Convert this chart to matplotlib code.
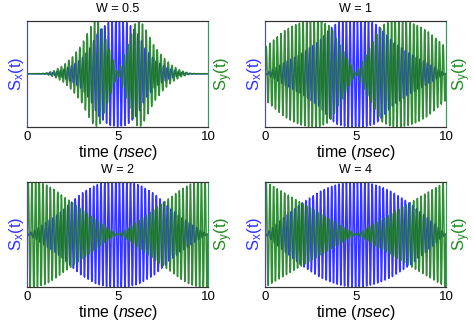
import numpy as np
import matplotlib
matplotlib.use("Agg")
import matplotlib.pyplot as plt

plt.rcParams['font.family'] = ['Liberation Sans', 'DejaVu Sans']
plt.rcParams['mathtext.fontset'] = 'custom'
plt.rcParams['mathtext.rm'] = 'Liberation Sans'
plt.rcParams['mathtext.it'] = 'Liberation Sans:italic'

# envelope knots (time in nsec) for each coupling W
t_knots = [0, 0.5, 1, 1.5, 2, 2.5, 3, 3.5, 3.75, 4, 4.5, 5,
           5.5, 6, 6.25, 6.5, 7, 7.5, 8, 8.5, 9, 9.5, 10]

w_values = ["0.5", "1", "2", "4"]

sx_env_w05 = [0, 0, 0.005, 0.03, 0.08, 0.16, 0.28, 0.5, 0.68, 0.82, 0.97, 1.0,
              0.97, 0.82, 0.68, 0.5, 0.28, 0.16, 0.08, 0.03, 0.005, 0, 0]
sy_env_w05 = [0, 0, 0.01, 0.06, 0.16, 0.32, 0.54, 0.88, 1.0, 0.97, 0.5, 0.0,
              0.5, 0.97, 1.0, 0.88, 0.54, 0.32, 0.16, 0.06, 0.01, 0, 0]

sx_env_w1 = [0, 0.1, 0.2, 0.29, 0.38, 0.5, 0.62, 0.82, 0.9, 0.96, 1.0, 1.0,
             1.0, 0.96, 0.9, 0.82, 0.62, 0.5, 0.38, 0.29, 0.2, 0.1, 0]
sy_env_w1 = [0.5, 0.65, 0.8, 0.9, 0.97, 1.0, 1.0, 0.92, 0.8, 0.62, 0.32, 0.0,
             0.32, 0.62, 0.8, 0.92, 1.0, 1.0, 0.97, 0.9, 0.8, 0.65, 0.5]

sx_env_w2 = [0, 0.1, 0.22, 0.33, 0.47, 0.63, 0.78, 0.88, 0.93, 0.96, 1.0, 1.0,
             1.0, 0.96, 0.93, 0.88, 0.78, 0.63, 0.47, 0.33, 0.22, 0.1, 0]
sy_env_w2 = [1.0, 1.0, 0.95, 0.85, 0.72, 0.6, 0.47, 0.35, 0.29, 0.22, 0.1, 0.0,
             0.1, 0.22, 0.29, 0.35, 0.47, 0.6, 0.72, 0.85, 0.95, 1.0, 1.0]

sx_env_w4 = [0, 0.16, 0.31, 0.45, 0.59, 0.7, 0.81, 0.89, 0.92, 0.95, 0.99, 1.0,
             0.99, 0.95, 0.92, 0.89, 0.81, 0.7, 0.59, 0.45, 0.31, 0.16, 0]
sy_env_w4 = [1.0, 0.9, 0.8, 0.7, 0.6, 0.5, 0.4, 0.3, 0.25, 0.2, 0.1, 0.0,
             0.1, 0.2, 0.25, 0.3, 0.4, 0.5, 0.6, 0.7, 0.8, 0.9, 1.0]

sx_envs = [sx_env_w05, sx_env_w1, sx_env_w2, sx_env_w4]
sy_envs = [sy_env_w05, sy_env_w1, sy_env_w2, sy_env_w4]

carrier_ghz = 4.9  # precession frequency
xticks = [0, 5, 10]

blue = '#3535ff'
green = '#1e7f24'

t = np.linspace(0, 10, 20000)
phase = 2 * np.pi * carrier_ghz * t

fig = plt.figure(figsize=(4.74, 3.22), dpi=100)
positions = [(0.0576, 0.6065, 0.381, 0.329), (0.5597, 0.6065, 0.381, 0.329),
             (0.0576, 0.1087, 0.381, 0.327), (0.5597, 0.1087, 0.381, 0.327)]

for i, pos in enumerate(positions):
    ax = fig.add_axes(pos)
    sx = np.interp(t, t_knots, sx_envs[i]) * np.cos(phase)
    sy = np.interp(t, t_knots, sy_envs[i]) * np.sin(phase)

    ax.plot(t, sx, color=blue, lw=1.1)
    ax.set_xlim(0, 10)
    ax.set_ylim(-1, 1)
    ax.set_yticks([])
    ax.set_xticks(xticks)
    ax.tick_params(axis='x', length=0, labelsize=9.5, pad=3)
    ax.set_title('W = ' + w_values[i], fontsize=9, pad=6.5)
    ax.set_xlabel(r'time ($\it{nsec}$)', fontsize=11.5, labelpad=0)
    ax.set_ylabel(r'S$_\mathregular{x}$(t)', color='#3333ff', fontsize=12, labelpad=1)

    ax2 = ax.twinx()
    ax2.plot(t, sy, color=green, lw=1.1, alpha=0.9)
    ax2.set_ylim(-1, 1)
    ax2.set_yticks([])
    ax2.set_ylabel(r'S$_\mathregular{y}$(t)', color='#1f8a1f', fontsize=12, labelpad=3)

    for a in (ax, ax2):
        a.spines['top'].set_color('#333333')
        a.spines['bottom'].set_color('#333333')
        a.spines['left'].set_color('#4444ff')
        a.spines['right'].set_color('#4f8a6a')

fig.savefig('out.png', dpi=100)
